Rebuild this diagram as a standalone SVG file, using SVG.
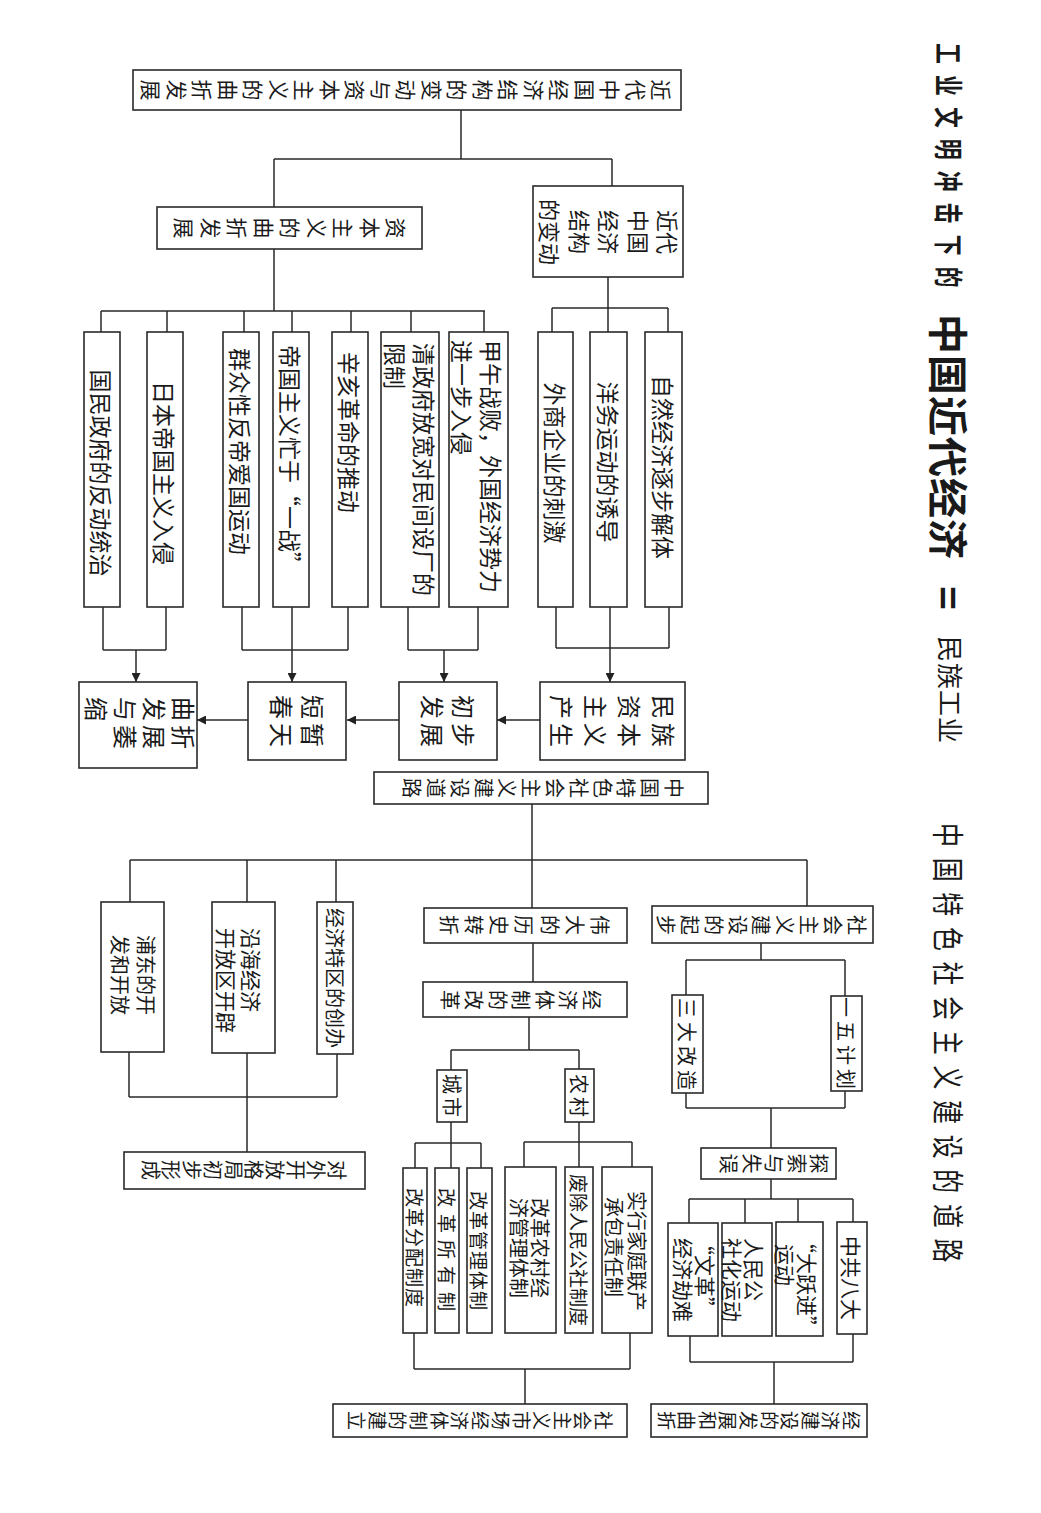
<svg xmlns="http://www.w3.org/2000/svg" width="1041" height="1513" viewBox="0 0 1041 1513">
<defs>
<marker id="arr" viewBox="0 0 10 10" refX="10" refY="5" markerWidth="9" markerHeight="9" markerUnits="userSpaceOnUse" orient="auto"><path d="M0,0 L10,5 L0,10 z" fill="#222"/></marker>
</defs>
<style>
.bg{fill:#fff;stroke:none}
.nd rect{fill:#fff;stroke:#2a2a2a;stroke-width:1.6}
.cn path{fill:none;stroke:#2a2a2a;stroke-width:1.5}
text{font-family:"Noto Sans CJK SC","Noto Sans CJK JP",sans-serif;fill:#1a1a1a}
.m{text-anchor:middle;dominant-baseline:central}
.s{text-anchor:start;dominant-baseline:central}
.f18{font-size:18px}.f19{font-size:19px}.f20{font-size:20px}.f21{font-size:21px}.f22{font-size:22px}.f23{font-size:23px}.f24{font-size:24px}
.b{font-weight:bold}
</style>
<rect class="bg" x="0" y="0" width="1041" height="1513"/>

<g id="connectors" class="cn">
<path d="M461 110V159 M274 159H612 M274 159V207 M612 159V186"/>
<path d="M274 249V311 M101 311H485 M101 311V332 M167 311V332 M244 311V332 M292 311V332 M351 311V332 M411 311V332 M484 311V332"/>
<path d="M608 277V308 M552 308H668 M552 308V332 M608 308V332 M668 308V332"/>
<path d="M103 607V650 M166 607V650 M103 650H166 M242 607V650 M348 607V650 M242 650H348 M292 607V650 M408 607V650 M478 607V650 M408 650H478 M556 607V648 M669 607V648 M556 648H669 M610 607V648"/>
<path d="M136 650V682" marker-end="url(#arr)"/>
<path d="M292 650V682" marker-end="url(#arr)"/>
<path d="M444 650V682" marker-end="url(#arr)"/>
<path d="M610 648V682" marker-end="url(#arr)"/>
<path d="M540 720H497" marker-end="url(#arr)"/>
<path d="M399 720H347" marker-end="url(#arr)"/>
<path d="M248 720H197" marker-end="url(#arr)"/>
<path d="M532 804V860 M130 860H807 M130 860V902 M247 860V902 M336 860V902 M532 860V908 M807 860V906"/>
<path d="M129 1052V1097 M337 1054V1097 M129 1097H337 M247 1053V1152"/>
<path d="M533 943V982 M529 1017V1050 M451 1050H579 M451 1050V1070 M579 1050V1069"/>
<path d="M451 1122V1168 M415 1143H481 M415 1143V1168 M481 1143V1168"/>
<path d="M579 1122V1167 M524 1142H632 M524 1142V1167 M632 1142V1167"/>
<path d="M414 1333V1369 M630 1333V1369 M414 1369H630 M525 1369V1404"/>
<path d="M761 943V960 M686 960H845 M686 960V995 M845 960V996"/>
<path d="M845 1091V1108 M686 1093V1108 M686 1108H845 M771 1108V1148"/>
<path d="M771 1179V1199 M689 1199H853 M689 1199V1223 M745 1199V1223 M798 1199V1222 M853 1199V1222"/>
<path d="M690 1336V1362 M853 1334V1362 M690 1362H853 M774 1362V1404"/>
</g>

<g id="title">
<text class="s b" font-size="29" letter-spacing="15.4" transform="translate(950 43) rotate(90) scale(0.72 1)">工业文明冲击下的</text>
<text class="s b" font-size="40" letter-spacing="1" transform="translate(950 314) rotate(90)">中国近代经济</text>
<text class="m b" font-size="40" transform="translate(950 598) rotate(90)">=</text>
<text class="s" font-size="26" letter-spacing="1" transform="translate(951 636) rotate(90)">民族工业</text>
<text class="s" font-size="32" letter-spacing="14.2" transform="translate(950 823) rotate(90) scale(0.75 1)">中国特色社会主义建设的道路</text>
</g>

<g class="nd">
<g id="n_root1"><rect x="133" y="70" width="548" height="40"/>
<text class="m f21" transform="translate(662 90) rotate(90)"><tspan x="0" y="0">近</tspan><tspan x="0" y="25.5">代</tspan><tspan x="0" y="51">中</tspan><tspan x="0" y="76.5">国</tspan><tspan x="0" y="102">经</tspan><tspan x="0" y="127.5">济</tspan><tspan x="0" y="153">结</tspan><tspan x="0" y="178.5">构</tspan><tspan x="0" y="204">的</tspan><tspan x="0" y="229.5">变</tspan><tspan x="0" y="255">动</tspan><tspan x="0" y="280.5">与</tspan><tspan x="0" y="306">资</tspan><tspan x="0" y="331.5">本</tspan><tspan x="0" y="357">主</tspan><tspan x="0" y="382.5">义</tspan><tspan x="0" y="408">的</tspan><tspan x="0" y="433.5">曲</tspan><tspan x="0" y="459">折</tspan><tspan x="0" y="484.5">发</tspan><tspan x="0" y="510">展</tspan></text></g>
<g id="n_zb"><rect x="157" y="207" width="265" height="42"/>
<text class="m f21" transform="translate(397 228) rotate(90)"><tspan x="0" y="0">资</tspan><tspan x="0" y="26.5">本</tspan><tspan x="0" y="53">主</tspan><tspan x="0" y="79.5">义</tspan><tspan x="0" y="106">的</tspan><tspan x="0" y="132.5">曲</tspan><tspan x="0" y="159">折</tspan><tspan x="0" y="185.5">发</tspan><tspan x="0" y="212">展</tspan></text></g>
<g id="n_jd"><rect x="533" y="186" width="150" height="91"/>
<text class="m f22" transform="translate(669 232) rotate(90)">近代</text>
<text class="m f22" transform="translate(639.5 232) rotate(90)">中国</text>
<text class="m f22" transform="translate(610 232) rotate(90)">经济</text>
<text class="m f22" transform="translate(580.5 232) rotate(90)">结构</text>
<text class="m f22" transform="translate(551 232) rotate(90)">的变动</text></g>
<g id="n_ziran"><rect x="645" y="332" width="37" height="275"/><text class="m f23" transform="translate(663.5 467) rotate(90)">自然经济逐步解体</text></g>
<g id="n_yangwu"><rect x="590" y="332" width="37" height="275"/><text class="m f23" transform="translate(608.5 462) rotate(90)">洋务运动的诱导</text></g>
<g id="n_waishang"><rect x="538" y="332" width="35" height="275"/><text class="m f23" transform="translate(555.5 463) rotate(90)">外商企业的刺激</text></g>
<g id="n_guomin"><rect x="84" y="332" width="36" height="275"/><text class="m f23" transform="translate(102 473) rotate(90)">国民政府的反动统治</text></g>
<g id="n_riben"><rect x="147" y="332" width="36" height="275"/><text class="m f23" transform="translate(165 473) rotate(90)">日本帝国主义入侵</text></g>
<g id="n_qunzhong"><rect x="223" y="332" width="36" height="275"/><text class="s f23" transform="translate(241 348) rotate(90)">群众性反帝爱国运动</text></g>
<g id="n_diguo"><rect x="273" y="332" width="36" height="275"/><text class="s f23" transform="translate(291 345) rotate(90)">帝国主义忙于“一战”</text></g>
<g id="n_xinhai"><rect x="332" y="332" width="36" height="275"/><text class="s f23" transform="translate(350 352) rotate(90)">辛亥革命的推动</text></g>
<g id="n_qingzf"><rect x="381" y="332" width="58" height="275"/>
<text class="s f23" transform="translate(425 343) rotate(90)">清政府放宽对民间设厂的</text>
<text class="s f23" transform="translate(396 343) rotate(90)">限制</text></g>
<g id="n_jiawu"><rect x="449" y="332" width="59" height="275"/>
<text class="s f23" transform="translate(492 340) rotate(90)">甲午战败，外国经济势力</text>
<text class="s f23" transform="translate(463 340) rotate(90)">进一步入侵</text></g>
<g id="n_quzhe"><rect x="79" y="682" width="118" height="86"/>
<text class="s f24" letter-spacing="4" transform="translate(184 697) rotate(90)">曲折</text>
<text class="s f24" letter-spacing="4" transform="translate(155 697) rotate(90)">发展</text>
<text class="s f24" letter-spacing="4" transform="translate(126 697) rotate(90)">与萎</text>
<text class="s f24" letter-spacing="4" transform="translate(97 697) rotate(90)">缩</text></g>
<g id="n_duanzan"><rect x="248" y="682" width="98" height="78"/>
<text class="s f24" letter-spacing="4" transform="translate(313 695) rotate(90)">短暂</text>
<text class="s f24" letter-spacing="4" transform="translate(282 695) rotate(90)">春天</text></g>
<g id="n_chubu"><rect x="399" y="682" width="98" height="78"/>
<text class="s f24" letter-spacing="4" transform="translate(464 695) rotate(90)">初步</text>
<text class="s f24" letter-spacing="4" transform="translate(433 695) rotate(90)">发展</text></g>
<g id="n_minzu"><rect x="540" y="682" width="145" height="78"/>
<text class="s f24" letter-spacing="4" transform="translate(664 695) rotate(90)">民族</text>
<text class="s f24" letter-spacing="4" transform="translate(630 695) rotate(90)">资本</text>
<text class="s f24" letter-spacing="4" transform="translate(596 695) rotate(90)">主义</text>
<text class="s f24" letter-spacing="4" transform="translate(562 695) rotate(90)">产生</text></g>

<g id="n_root2"><rect x="374" y="772" width="334" height="32"/>
<text class="m f20" transform="translate(675 788) rotate(90)"><tspan x="0" y="0">中</tspan><tspan x="0" y="23.8">国</tspan><tspan x="0" y="47.6">特</tspan><tspan x="0" y="71.4">色</tspan><tspan x="0" y="95.2">社</tspan><tspan x="0" y="119">会</tspan><tspan x="0" y="142.8">主</tspan><tspan x="0" y="166.6">义</tspan><tspan x="0" y="190.4">建</tspan><tspan x="0" y="214.2">设</tspan><tspan x="0" y="238">道</tspan><tspan x="0" y="261.8">路</tspan></text></g>
<g id="n_qibu"><rect x="652" y="906" width="221" height="37"/>
<text class="m f20" transform="translate(858 925) rotate(90)"><tspan x="0" y="0">社</tspan><tspan x="0" y="23.9">会</tspan><tspan x="0" y="47.8">主</tspan><tspan x="0" y="71.7">义</tspan><tspan x="0" y="95.6">建</tspan><tspan x="0" y="119.5">设</tspan><tspan x="0" y="143.4">的</tspan><tspan x="0" y="167.3">起</tspan><tspan x="0" y="191.2">步</tspan></text></g>
<g id="n_weida"><rect x="424" y="908" width="203" height="35"/>
<text class="m f20" transform="translate(601 925) rotate(90)"><tspan x="0" y="0">伟</tspan><tspan x="0" y="25.25">大</tspan><tspan x="0" y="50.5">的</tspan><tspan x="0" y="75.75">历</tspan><tspan x="0" y="101">史</tspan><tspan x="0" y="126.25">转</tspan><tspan x="0" y="151.5">折</tspan></text></g>
<g id="n_pudong"><rect x="101" y="902" width="63" height="150"/>
<text class="m f20" transform="translate(146.7 975) rotate(90)">浦东的开</text>
<text class="m f20" transform="translate(120 975) rotate(90)">发和开放</text></g>
<g id="n_yanhai"><rect x="212" y="902" width="63" height="151"/>
<text class="s f21" transform="translate(251.7 928) rotate(90)">沿海经济</text>
<text class="s f21" transform="translate(226.7 928) rotate(90)">开放区开辟</text></g>
<g id="n_tequ"><rect x="317" y="902" width="36" height="152"/>
<text class="s f20" transform="translate(335 908) rotate(90)">经济特区的创办</text></g>
<g id="n_duiwai"><rect x="124" y="1152" width="241" height="37"/>
<text class="m f20" transform="translate(338 1170) rotate(90)"><tspan x="0" y="0">对</tspan><tspan x="0" y="20.7">外</tspan><tspan x="0" y="41.4">开</tspan><tspan x="0" y="62.1">放</tspan><tspan x="0" y="82.8">格</tspan><tspan x="0" y="103.5">局</tspan><tspan x="0" y="124.2">初</tspan><tspan x="0" y="144.9">步</tspan><tspan x="0" y="165.6">形</tspan><tspan x="0" y="186.3">成</tspan></text></g>
<g id="n_tizhi"><rect x="423" y="982" width="204" height="35"/>
<text class="m f20" transform="translate(593 1000) rotate(90)"><tspan x="0" y="0">经</tspan><tspan x="0" y="23.6">济</tspan><tspan x="0" y="47.2">体</tspan><tspan x="0" y="70.8">制</tspan><tspan x="0" y="94.4">的</tspan><tspan x="0" y="118">改</tspan><tspan x="0" y="141.6">革</tspan></text></g>
<g id="n_chengshi"><rect x="437" y="1070" width="30" height="52"/><text class="m f20" letter-spacing="3" transform="translate(452 1097) rotate(90)">城市</text></g>
<g id="n_nongcun"><rect x="565" y="1069" width="29" height="53"/><text class="m f20" letter-spacing="3" transform="translate(579.5 1097) rotate(90)">农村</text></g>
<g id="n_fenpei"><rect x="403" y="1168" width="24" height="165"/><text class="s f19" letter-spacing="1" transform="translate(415 1188) rotate(90)">改革分配制度</text></g>
<g id="n_suoyou"><rect x="435" y="1168" width="24" height="165"/><text class="s f19" letter-spacing="7" transform="translate(447 1188) rotate(90)">改革所有制</text></g>
<g id="n_guanli"><rect x="467" y="1168" width="25" height="165"/><text class="s f19" letter-spacing="1" transform="translate(479.5 1191) rotate(90)">改革管理体制</text></g>
<g id="n_ncjj"><rect x="505" y="1167" width="51" height="166"/>
<text class="s f20" transform="translate(540 1198) rotate(90)">改革农村经</text>
<text class="s f20" transform="translate(519 1198) rotate(90)">济管理体制</text></g>
<g id="n_feichu"><rect x="565" y="1167" width="28" height="166"/><text class="s f19" transform="translate(579 1174) rotate(90)">废除人民公社制度</text></g>
<g id="n_shixing"><rect x="602" y="1167" width="50" height="166"/>
<text class="s f20" transform="translate(637 1191) rotate(90)">实行家庭联产</text>
<text class="s f20" transform="translate(614 1197) rotate(90)">承包责任制</text></g>
<g id="n_shichang"><rect x="333" y="1404" width="294" height="33"/>
<text class="m f19" transform="translate(605 1420.5) rotate(90)"><tspan x="0" y="0">社</tspan><tspan x="0" y="20.56">会</tspan><tspan x="0" y="41.1">主</tspan><tspan x="0" y="61.7">义</tspan><tspan x="0" y="82.2">市</tspan><tspan x="0" y="102.8">场</tspan><tspan x="0" y="123.4">经</tspan><tspan x="0" y="143.9">济</tspan><tspan x="0" y="164.5">体</tspan><tspan x="0" y="185">制</tspan><tspan x="0" y="205.6">的</tspan><tspan x="0" y="226.2">建</tspan><tspan x="0" y="246.7">立</tspan></text></g>
<g id="n_yiwu"><rect x="831" y="996" width="31" height="95"/><text class="m f20" letter-spacing="4" transform="translate(846.5 1045) rotate(90)">一五计划</text></g>
<g id="n_sanda"><rect x="672" y="995" width="31" height="98"/><text class="m f20" letter-spacing="4" transform="translate(687.5 1046) rotate(90)">三大改造</text></g>
<g id="n_tansuo"><rect x="701" y="1148" width="135" height="31"/>
<text class="m f20" transform="translate(820 1163.5) rotate(90)"><tspan x="0" y="0">探</tspan><tspan x="0" y="22.5">索</tspan><tspan x="0" y="45">与</tspan><tspan x="0" y="67.5">失</tspan><tspan x="0" y="90">误</tspan></text></g>
<g id="n_bada"><rect x="837" y="1222" width="30" height="112"/><text class="m f21" transform="translate(852 1278) rotate(90)">中共八大</text></g>
<g id="n_dayuejin"><rect x="776" y="1222" width="47" height="114"/>
<text class="s f21" transform="translate(808 1232) rotate(90)">“大跃进”</text>
<text class="s f21" transform="translate(786 1244) rotate(90)">运动</text></g>
<g id="n_renmin"><rect x="722" y="1223" width="50" height="113"/>
<text class="s f21" transform="translate(755 1238) rotate(90)">人民公</text>
<text class="s f21" transform="translate(733 1238) rotate(90)">社化运动</text></g>
<g id="n_wenge"><rect x="668" y="1223" width="50" height="113"/>
<text class="s f21" transform="translate(706 1234) rotate(90)">“文革”</text>
<text class="s f21" transform="translate(683.5 1238) rotate(90)">经济劫难</text></g>
<g id="n_jianshe"><rect x="651" y="1404" width="216" height="33"/>
<text class="m f19" transform="translate(853 1420.5) rotate(90)"><tspan x="0" y="0">经</tspan><tspan x="0" y="20.6">济</tspan><tspan x="0" y="41.2">建</tspan><tspan x="0" y="61.8">设</tspan><tspan x="0" y="82.4">的</tspan><tspan x="0" y="103">发</tspan><tspan x="0" y="123.6">展</tspan><tspan x="0" y="144.2">和</tspan><tspan x="0" y="164.8">曲</tspan><tspan x="0" y="185.4">折</tspan></text></g>
</g>
</svg>
